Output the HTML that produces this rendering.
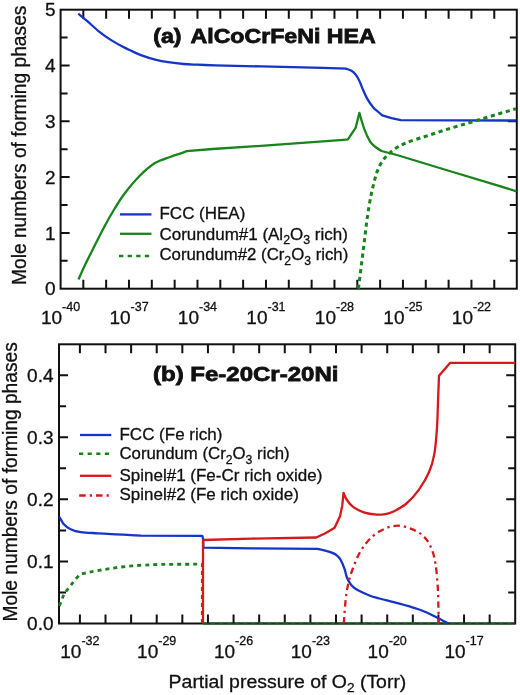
<!DOCTYPE html>
<html><head><meta charset="utf-8"><style>
html,body{margin:0;padding:0;background:#fff;width:520px;height:695px;overflow:hidden}
svg{display:block}
text{font-family:"Liberation Sans", Arial, sans-serif;fill:#111;stroke:#111;stroke-width:0.3px}
.tk{font-size:19px}
.ex{font-size:12.5px}
.yl{font-size:19.2px}
.lg{font-size:16.5px}
.sb{font-size:12px}
.sb2{font-size:13px}
.xl{font-size:18.5px}
.ti{font-size:19.2px;font-weight:bold;stroke:#111;stroke-width:0.8px}
</style></head><body>
<svg width="520" height="695" viewBox="0 0 520 695">
<rect width="520" height="695" fill="#fff"/>
<rect x="60.6" y="9.7" width="456.20" height="279.00" fill="none" stroke="#111" stroke-width="2"/>
<path d="M83.33,288.7v-9M83.33,9.7v9M106.16,288.7v-9M106.16,9.7v9M128.99,288.7v-9M128.99,9.7v9M151.82,288.7v-9M151.82,9.7v9M174.65,288.7v-9M174.65,9.7v9M197.48,288.7v-9M197.48,9.7v9M220.31,288.7v-9M220.31,9.7v9M243.14,288.7v-9M243.14,9.7v9M265.97,288.7v-9M265.97,9.7v9M288.80,288.7v-9M288.80,9.7v9M311.63,288.7v-9M311.63,9.7v9M334.46,288.7v-9M334.46,9.7v9M357.29,288.7v-9M357.29,9.7v9M380.12,288.7v-9M380.12,9.7v9M402.95,288.7v-9M402.95,9.7v9M425.78,288.7v-9M425.78,9.7v9M448.61,288.7v-9M448.61,9.7v9M471.44,288.7v-9M471.44,9.7v9M494.27,288.7v-9M494.27,9.7v9M60.6,232.90h9M516.8,232.90h-9M60.6,177.10h9M516.8,177.10h-9M60.6,121.30h9M516.8,121.30h-9M60.6,65.50h9M516.8,65.50h-9M60.6,260.80h7M516.8,260.80h-7M60.6,205.00h7M516.8,205.00h-7M60.6,149.20h7M516.8,149.20h-7M60.6,93.40h7M516.8,93.40h-7M60.6,37.60h7M516.8,37.60h-7" stroke="#111" stroke-width="2" fill="none"/>
<text x="55.5" y="295.30" text-anchor="end" class="tk">0</text>
<text x="55.5" y="239.50" text-anchor="end" class="tk">1</text>
<text x="55.5" y="183.70" text-anchor="end" class="tk">2</text>
<text x="55.5" y="127.90" text-anchor="end" class="tk">3</text>
<text x="55.5" y="72.10" text-anchor="end" class="tk">4</text>
<text x="55.5" y="16.30" text-anchor="end" class="tk">5</text>
<text x="60.50" y="323.9" text-anchor="middle" class="tk">10<tspan class="ex" dy="-13">-40</tspan></text>
<text x="128.99" y="323.9" text-anchor="middle" class="tk">10<tspan class="ex" dy="-13">-37</tspan></text>
<text x="197.48" y="323.9" text-anchor="middle" class="tk">10<tspan class="ex" dy="-13">-34</tspan></text>
<text x="265.97" y="323.9" text-anchor="middle" class="tk">10<tspan class="ex" dy="-13">-31</tspan></text>
<text x="334.46" y="323.9" text-anchor="middle" class="tk">10<tspan class="ex" dy="-13">-28</tspan></text>
<text x="402.95" y="323.9" text-anchor="middle" class="tk">10<tspan class="ex" dy="-13">-25</tspan></text>
<text x="471.44" y="323.9" text-anchor="middle" class="tk">10<tspan class="ex" dy="-13">-22</tspan></text>
<text transform="translate(25.9,285) scale(1.05,1) rotate(-90)" class="yl">Mole numbers of forming phases</text>
<text class="ti" style="font-size:19.8px" transform="translate(153.2,42.6) scale(1.17,1)">(a) <tspan dx="2.2">AlCoCrFeNi HEA</tspan></text>
<path d="M78.30,13.70 C79.80,14.95 83.88,18.27 87.30,21.20 C90.72,24.13 94.95,28.23 98.80,31.30 C102.65,34.37 106.55,37.12 110.40,39.60 C114.25,42.08 118.63,44.43 121.90,46.20 C125.17,47.97 126.60,48.63 130.00,50.20 C133.40,51.77 137.93,53.98 142.30,55.60 C146.67,57.22 151.87,58.80 156.20,59.90 C160.53,61.00 163.70,61.52 168.30,62.20 C172.90,62.88 178.90,63.58 183.80,64.00 C188.70,64.42 192.50,64.47 197.70,64.70 C202.90,64.93 212.12,65.28 215.00,65.40 L261.50,66.40 L323.00,67.80 L346.00,68.60 L346.00,68.60 C346.92,68.97 349.93,69.87 351.50,70.80 C353.07,71.73 354.12,72.60 355.40,74.20 C356.68,75.80 358.05,78.08 359.20,80.40 C360.35,82.72 361.02,85.15 362.30,88.10 C363.58,91.05 365.10,94.90 366.90,98.10 C368.70,101.30 371.30,105.07 373.10,107.30 C374.90,109.53 376.17,110.17 377.70,111.50 C379.23,112.83 381.53,114.67 382.30,115.30 L391.50,118.10 L400.80,120.20 L516.00,120.50" stroke="#1435c8" stroke-width="2.3" fill="none" stroke-linejoin="round"/>
<path d="M78.50,279.50 C79.58,277.08 82.25,270.75 85.00,265.00 C87.75,259.25 91.67,251.58 95.00,245.00 C98.33,238.42 101.67,231.67 105.00,225.50 C108.33,219.33 111.67,213.42 115.00,208.00 C118.33,202.58 120.83,198.42 125.00,193.00 C129.17,187.58 135.00,180.50 140.00,175.50 C145.00,170.50 150.00,166.08 155.00,163.00 C160.00,159.92 165.83,158.57 170.00,157.00 C174.17,155.43 177.25,154.57 180.00,153.60 C182.75,152.63 185.42,151.60 186.50,151.20 L212.70,149.00 L278.00,144.70 L343.50,139.80 L347.90,139.40 L355.60,127.90 L359.40,112.80 L359.40,112.80 C360.20,115.47 362.43,124.05 364.20,128.80 C365.97,133.55 368.12,138.27 370.00,141.30 C371.88,144.33 373.58,145.38 375.50,147.00 C377.42,148.62 380.50,150.33 381.50,151.00 L396.90,155.00 L446.20,170.00 L492.30,183.80 L516.50,191.30" stroke="#18841c" stroke-width="2.3" fill="none" stroke-linejoin="round"/>
<path d="M358.40,288.70 C358.90,284.73 360.42,272.75 361.40,264.90 C362.38,257.05 363.33,249.37 364.30,241.60 C365.27,233.83 366.07,226.07 367.20,218.30 C368.33,210.53 369.65,202.13 371.10,195.00 C372.55,187.87 374.67,179.92 375.90,175.50 C377.13,171.08 377.57,170.65 378.50,168.50 C379.43,166.35 380.03,164.82 381.50,162.60 C382.97,160.38 384.73,157.70 387.30,155.20 C389.87,152.70 393.70,149.67 396.90,147.60 C400.10,145.53 402.65,144.40 406.50,142.80 C410.35,141.20 417.25,138.93 420.00,138.00 C422.75,137.07 422.50,137.33 423.00,137.20 L446.20,129.60 L469.20,122.70 L492.30,115.80 L516.00,108.70" stroke="#18841c" stroke-width="3" fill="none" stroke-dasharray="4.2 3.6"/>
<path d="M120,214.4H151.5" stroke="#1435c8" stroke-width="2.3"/>
<path d="M120,233.8H151.5" stroke="#18841c" stroke-width="2.3"/>
<path d="M119,256.1H151.5" stroke="#18841c" stroke-width="2.5" stroke-dasharray="4.3 4.3"/>
<text class="lg" transform="translate(159.5,219.4) scale(1.03,1)">FCC (HEA)</text>
<text class="lg" transform="translate(159.5,239.6) scale(1.03,1)">Corundum#1 (Al<tspan class="sb" dy="4.6">2</tspan><tspan dy="-4.6">O</tspan><tspan class="sb" dy="4.6">3</tspan><tspan dy="-4.6"> rich)</tspan></text>
<text class="lg" transform="translate(159.5,260.3) scale(1.017,1)">Corundum#2 (Cr<tspan class="sb" dy="4.6">2</tspan><tspan dy="-4.6">O</tspan><tspan class="sb" dy="4.6">3</tspan><tspan dy="-4.6"> rich)</tspan></text>
<rect x="59.0" y="344.3" width="456.20" height="279.20" fill="none" stroke="#111" stroke-width="2"/>
<path d="M79.90,623.5v-9M79.90,344.3v9M105.51,623.5v-9M105.51,344.3v9M131.12,623.5v-9M131.12,344.3v9M156.73,623.5v-9M156.73,344.3v9M182.34,623.5v-9M182.34,344.3v9M207.95,623.5v-9M207.95,344.3v9M233.56,623.5v-9M233.56,344.3v9M259.17,623.5v-9M259.17,344.3v9M284.78,623.5v-9M284.78,344.3v9M310.39,623.5v-9M310.39,344.3v9M336.00,623.5v-9M336.00,344.3v9M361.61,623.5v-9M361.61,344.3v9M387.22,623.5v-9M387.22,344.3v9M412.83,623.5v-9M412.83,344.3v9M438.44,623.5v-9M438.44,344.3v9M464.05,623.5v-9M464.05,344.3v9M489.66,623.5v-9M489.66,344.3v9M59.0,561.42h9M515.2,561.42h-9M59.0,499.34h9M515.2,499.34h-9M59.0,437.26h9M515.2,437.26h-9M59.0,375.18h9M515.2,375.18h-9M59.0,592.46h7M515.2,592.46h-7M59.0,530.38h7M515.2,530.38h-7M59.0,468.30h7M515.2,468.30h-7M59.0,406.22h7M515.2,406.22h-7" stroke="#111" stroke-width="2" fill="none"/>
<text x="53.5" y="630.10" text-anchor="end" class="tk">0.0</text>
<text x="53.5" y="568.02" text-anchor="end" class="tk">0.1</text>
<text x="53.5" y="505.94" text-anchor="end" class="tk">0.2</text>
<text x="53.5" y="443.86" text-anchor="end" class="tk">0.3</text>
<text x="53.5" y="381.78" text-anchor="end" class="tk">0.4</text>
<text x="79.90" y="658.4" text-anchor="middle" class="tk">10<tspan class="ex" dy="-13">-32</tspan></text>
<text x="156.73" y="658.4" text-anchor="middle" class="tk">10<tspan class="ex" dy="-13">-29</tspan></text>
<text x="233.56" y="658.4" text-anchor="middle" class="tk">10<tspan class="ex" dy="-13">-26</tspan></text>
<text x="310.39" y="658.4" text-anchor="middle" class="tk">10<tspan class="ex" dy="-13">-23</tspan></text>
<text x="387.22" y="658.4" text-anchor="middle" class="tk">10<tspan class="ex" dy="-13">-20</tspan></text>
<text x="464.05" y="658.4" text-anchor="middle" class="tk">10<tspan class="ex" dy="-13">-17</tspan></text>
<text transform="translate(16.9,621.6) scale(1.05,1) rotate(-90)" class="yl">Mole numbers of forming phases</text>
<text class="ti" style="font-size:20.8px" transform="translate(153.0,381.4) scale(1.155,1)">(b) Fe-20Cr-20Ni</text>
<text class="xl" transform="translate(168.6,687.7) scale(1.052,1)">Partial pressure of O<tspan class="sb2" dy="4.5">2</tspan><tspan dy="-4.5"> (Torr)</tspan></text>
<path d="M59.50,606.00 C59.90,604.87 60.92,601.48 61.90,599.20 C62.88,596.92 63.67,594.93 65.40,592.30 C67.13,589.67 69.95,586.28 72.30,583.40 C74.65,580.52 77.55,576.68 79.50,575.00 C81.45,573.32 82.32,573.77 84.00,573.30 C85.68,572.83 86.73,572.75 89.60,572.20 C92.47,571.65 96.97,570.73 101.20,570.00 C105.43,569.27 109.88,568.48 115.00,567.80 C120.12,567.12 126.07,566.40 131.90,565.90 C137.73,565.40 144.48,565.07 150.00,564.80 C155.52,564.53 162.50,564.38 165.00,564.30 L200.80,564.20 L202.30,564.20 L202.30,623.50" stroke="#18841c" stroke-width="2.8" fill="none" stroke-dasharray="4 4"/>
<path d="M203,623.5H515" stroke="#1f3a22" stroke-width="2" fill="none"/>
<path d="M203,623.5H515" stroke="#18841c" stroke-width="2.8" stroke-opacity="0.45" stroke-dasharray="4 4" fill="none"/>
<path d="M59.50,517.00 C60.18,518.17 61.75,521.97 63.60,524.00 C65.45,526.03 67.72,527.83 70.60,529.20 C73.48,530.57 76.30,531.52 80.90,532.20 C85.50,532.88 92.43,532.95 98.20,533.30 C103.97,533.65 109.37,533.97 115.50,534.30 C121.63,534.63 130.72,535.08 135.00,535.30 C139.28,535.52 140.17,535.55 141.20,535.60 L202.30,535.80 L203.30,539.50 L203.30,547.60 L251.50,548.30 L317.50,548.80 L317.50,548.80 C318.92,549.13 323.22,550.00 326.00,550.80 C328.78,551.60 332.20,552.65 334.20,553.60 C336.20,554.55 336.87,555.35 338.00,556.50 C339.13,557.65 339.90,558.38 341.00,560.50 C342.10,562.62 343.62,566.37 344.60,569.20 C345.58,572.03 345.93,575.07 346.90,577.50 C347.87,579.93 349.22,582.12 350.40,583.80 C351.58,585.48 352.65,586.47 354.00,587.60 C355.35,588.73 355.83,589.23 358.50,590.60 C361.17,591.97 366.55,594.48 370.00,595.80 C373.45,597.12 374.45,597.23 379.20,598.50 C383.95,599.77 392.08,601.65 398.50,603.40 C404.92,605.15 412.90,607.43 417.70,609.00 C422.50,610.57 424.10,611.38 427.30,612.80 C430.50,614.22 433.40,615.72 436.90,617.50 C440.40,619.28 446.40,622.50 448.30,623.50" stroke="#1435c8" stroke-width="2.3" fill="none" stroke-linejoin="round"/>
<path d="M203.00,623.50 L203.00,540.00 L251.50,538.60 L316.20,537.50 L325.40,533.20 L334.60,527.70 L340.00,516.20 L342.30,505.40 L343.50,492.80 L343.50,492.80 C344.07,494.00 345.30,497.65 346.90,500.00 C348.50,502.35 350.28,504.85 353.10,506.90 C355.92,508.95 359.90,511.02 363.80,512.30 C367.70,513.58 372.97,514.28 376.50,514.60 C380.03,514.92 382.27,514.67 385.00,514.20 C387.73,513.73 389.42,513.50 392.90,511.80 C396.38,510.10 401.58,507.67 405.90,504.00 C410.22,500.33 414.92,495.18 418.80,489.80 C422.68,484.42 426.60,477.73 429.20,471.70 C431.80,465.67 433.10,460.93 434.40,453.60 C435.70,446.27 436.40,436.33 437.00,427.70 C437.60,419.07 437.67,410.45 438.00,401.80 C438.33,393.15 438.83,380.13 439.00,375.80 L450.00,362.90 L515.00,362.90" stroke="#d8181a" stroke-width="2.3" fill="none" stroke-linejoin="round"/>
<path d="M343.80,623.50 C344.07,619.97 344.75,608.52 345.40,602.30 C346.05,596.08 346.55,591.58 347.70,586.20 C348.85,580.82 350.18,575.78 352.30,570.00 C354.42,564.22 357.13,557.03 360.40,551.50 C363.67,545.97 367.67,540.67 371.90,536.80 C376.13,532.93 381.37,530.15 385.80,528.30 C390.23,526.45 394.27,525.60 398.50,525.70 C402.73,525.80 407.17,527.28 411.20,528.90 C415.23,530.52 419.43,532.40 422.70,535.40 C425.97,538.40 428.68,542.28 430.80,546.90 C432.92,551.52 434.25,556.55 435.40,563.10 C436.55,569.65 437.20,578.90 437.70,586.20 C438.20,593.50 438.22,600.68 438.40,606.90 C438.58,613.12 438.73,620.73 438.80,623.50" stroke="#d8181a" stroke-width="2.3" fill="none" stroke-dasharray="6.5 4 2.3 4"/>
<path d="M80,435H111.3" stroke="#1435c8" stroke-width="2.3"/>
<path d="M79,453.8H111.3" stroke="#18841c" stroke-width="2.5" stroke-dasharray="4.2 4.4"/>
<path d="M80,475.8H111.3" stroke="#d8181a" stroke-width="2.3"/>
<path d="M79.2,495.5H111.3" stroke="#d8181a" stroke-width="2.3" stroke-dasharray="6.5 4 2.3 4"/>
<text class="lg" transform="translate(119.5,440.2) scale(1.03,1)">FCC (Fe rich)</text>
<text class="lg" transform="translate(119.5,459.4) scale(1.018,1)">Corundum (Cr<tspan class="sb" dy="4.6">2</tspan><tspan dy="-4.6">O</tspan><tspan class="sb" dy="4.6">3</tspan><tspan dy="-4.6"> rich)</tspan></text>
<text class="lg" transform="translate(119.5,481.3) scale(1.03,1)">Spinel#1 (Fe-Cr rich oxide)</text>
<text class="lg" transform="translate(119.5,500.2) scale(1.03,1)">Spinel#2 (Fe rich oxide)</text>
</svg>
</body></html>
